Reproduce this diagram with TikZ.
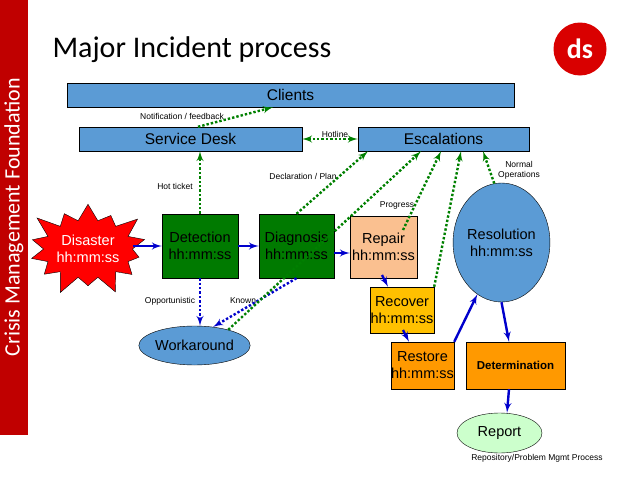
\documentclass[tikz,border=0pt]{standalone}
\usepackage{fontspec}
\setmainfont{Liberation Sans}
\newfontfamily\titlefont{Carlito}
\usetikzlibrary{shapes, shapes.symbols, arrows}
\definecolor{boxblue}{HTML}{5B9BD5}
\definecolor{darkgreen}{HTML}{007A00}
\definecolor{peach}{HTML}{FAC090}
\definecolor{gold}{HTML}{FFC000}
\definecolor{orangebox}{HTML}{FF9900}
\definecolor{paleg}{HTML}{CCFFCC}
\definecolor{dsred}{HTML}{C00000}
\tikzstyle{bar} = [rectangle, draw, fill=boxblue, font=\fontsize{15.5}{17}\selectfont, inner sep=0pt]
\tikzstyle{stage} = [rectangle, draw, inner sep=0pt, font=\fontsize{14.5}{17}\selectfont, align=center]
\tikzstyle{oval} = [ellipse, draw, inner sep=0pt, font=\fontsize{14.5}{17}\selectfont, align=center]
\tikzstyle{note} = [font=\fontsize{8.5}{10}\selectfont, align=center, inner sep=1pt]
\tikzstyle{flow} = [draw, blue!80!black, line width=2.4pt, -latex']
\tikzstyle{alt} = [draw, blue!80!black, line width=2.4pt, dotted, -latex']
\tikzstyle{comm} = [draw, green!50!black, line width=2.4pt, dotted, -latex']
\begin{document}
\begin{tikzpicture}[x=1pt, y=-1pt]
        \useasboundingbox (0,0) rectangle (638,479);
        % Frame
        \fill [dsred] (0,0) rectangle (28,435);
        \node [rotate=90, text=white, font=\titlefont\fontsize{22}{24}\selectfont] (side) at (14,217) {Crisis Management Foundation};
        \node [anchor=west, font=\titlefont\fontsize{30}{32}\selectfont] (title) at (49,50) {Major Incident process};
        \node [circle, fill=red!85!black, minimum size=53pt, text=white, font=\titlefont\bfseries\fontsize{28}{28}\selectfont] (logo) at (580,49) {ds};
        % Place nodes
        \node [bar, minimum width=447pt, minimum height=24pt] (clients) at (290.5,95) {Clients};
        \node [bar, minimum width=223pt, minimum height=24pt] (desk) at (190.5,139) {Service Desk};
        \node [bar, minimum width=171pt, minimum height=24pt] (esc) at (443.5,139) {Escalations};
        \node [starburst, starburst points=14, starburst point height=22pt, draw, fill=red, text=white, minimum width=91pt, minimum height=102pt, inner sep=0pt, align=center, font=\fontsize{14.5}{17}\selectfont] (disaster) at (88,249) {Disaster\\hh:mm:ss};
        \node [stage, fill=darkgreen, minimum width=76pt, minimum height=64pt] (detect) at (200,246) {Detection\\hh:mm:ss};
        \node [stage, fill=darkgreen, minimum width=75pt, minimum height=64pt] (diag) at (296.5,246) {Diagnosis\\hh:mm:ss};
        \node [stage, fill=peach, minimum width=67pt, minimum height=62pt] (repair) at (383.5,247) {Repair\\hh:mm:ss};
        \node [stage, fill=gold, minimum width=64pt, minimum height=46pt] (recover) at (402,310) {Recover\\hh:mm:ss};
        \node [stage, fill=orangebox, minimum width=63pt, minimum height=47pt] (restore) at (422.5,365.5) {Restore\\hh:mm:ss};
        \node [stage, fill=orangebox, minimum width=99pt, minimum height=47pt, font=\bfseries\fontsize{11.5}{13}\selectfont] (determ) at (515.5,365.5) {Determination};
        \node [oval, fill=boxblue, minimum width=79pt, minimum height=119pt] (resol) at (501.5,242.5) {Resolution\\hh:mm:ss};
        \node [oval, fill=boxblue, minimum width=105pt, minimum height=39pt] (work) at (194.5,345.5) {Workaround};
        \node [oval, fill=paleg, minimum width=85pt, minimum height=40pt] (report) at (499.5,433) {Report};
        % Info nodes
        \node [note] (notif) at (182,116) {Notification / feedback};
        \node [note] (hot) at (335,134) {Hotline};
        \node [note] (ticket) at (175,186) {Hot ticket};
        \node [note] (decl) at (303,176) {Declaration / Plan};
        \node [note] (prog) at (397,205) {Progress};
        \node [note] (normal) at (519,170) {Normal\\Operations};
        \node [note] (opp) at (170,301) {Opportunistic};
        \node [note] (known) at (243,301) {Known};
        \node [note] (repo) at (537,458) {Repository/Problem Mgmt Process};
        % Draw edges
        \path [flow] (disaster.east |- detect.west) -- (detect.west);
        \path [flow] (detect) -- (diag);
        \path [flow] (diag.east |- 0,253) -- (repair.west |- 0,253);
        \path [flow] (382,275) -- (recover.north -| 388,0);
        \path [flow] (403,330) -- (restore.north -| 409,0);
        \path [flow] (restore.north east) -- (resol.-115);
        \path [flow] (resol.south) -- (determ.north -| 509,0);
        \path [flow] (determ.south -| 509,0) -- (report.north -| 507,0);
        \path [alt] (detect.south) -- (work.north -| detect.south);
        \path [alt] (diag.south) -- (work.45);
        \path [comm] (detect.north) -- (desk.south -| detect.north);
        \path [comm] (desk.north -| 198,0) -- (clients.south -| 273,0);
        \path [comm, latex'-latex'] (desk.east) -- (esc.west);
        \path [comm] (diag.north) -- (esc.south -| 368,0);
        \path [comm] (work.25) -- (esc.south -| 421,0);
        \path [comm] (403,230) -- (esc.south -| 441,0);
        \path [comm] (recover.north east) -- (esc.south -| 461,0);
        \path [comm] (resol.97) -- (esc.south -| 483,0);
    \end{tikzpicture}
\end{document}
